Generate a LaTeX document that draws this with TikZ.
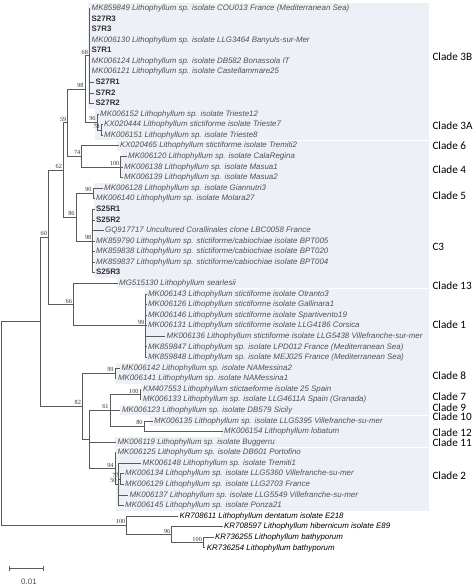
\documentclass[tikz,border=0pt]{standalone}
\usepackage{fontspec}
\setmainfont{Liberation Sans}
\newfontfamily\caliF{Carlito}
\newfontfamily\serifF{Liberation Serif}
\definecolor{leafgray}{HTML}{505050}
\definecolor{boldgray}{HTML}{303030}
\definecolor{linegray}{HTML}{5A5A5A}
\definecolor{boxc}{HTML}{EDF1F7}
\def\R#1{(8.3+10.58*(#1))}
\begin{document}
\begin{tikzpicture}[x=1pt,y=-1pt,
  leaf/.style={anchor=west,inner sep=1.5pt,text height=6pt,text depth=1.7pt,font=\fontsize{7.9}{9}\selectfont\itshape,text=leafgray},
  bleaf/.style={leaf,font=\fontsize{7.9}{9}\selectfont\bfseries,text=boldgray},
  kleaf/.style={leaf,text=black},
  bs/.style={anchor=south east,inner sep=1.2pt,font=\serifF\fontsize{6.3}{7}\selectfont,text=black!80},
  br/.style={draw=linegray,line width=0.8pt},
  clabel/.style={anchor=west,inner sep=0pt,text height=7.6pt,text depth=0pt,font=\caliF\fontsize{11.2}{13}\selectfont,text=black}]
\useasboundingbox (0,0) rectangle (474,585);
% clade boxes
\fill[boxc] (87.5,{\R{0}-5.1}) rectangle (429.3,{\R{9}+5.1});
\fill[boxc] (95,{\R{10}-5.1}) rectangle (429.3,{\R{12}+5.1});
\fill[boxc] (117,{\R{13}-5.1}) rectangle (429.3,{\R{13}+5.1});
\fill[boxc] (121,{\R{14}-5.1}) rectangle (429.3,{\R{16}+5.1});
\fill[boxc] (93.5,{\R{17}-5.1}) rectangle (429.3,{\R{18}+5.1});
\fill[boxc] (93.5,{\R{19}-5.1}) rectangle (429.3,{\R{25}+5.1});
\fill[boxc] (117,{\R{26}-5.1}) rectangle (429.3,{\R{26}+5.1});
\fill[boxc] (145,{\R{27}-5.1}) rectangle (429.3,{\R{33}+5.1});
\fill[boxc] (115.5,{\R{34}-5.1}) rectangle (429.3,{\R{35}+5.1});
\fill[boxc] (140.5,{\R{36}-5.1}) rectangle (429.3,{\R{37}+5.1});
\fill[boxc] (119.5,{\R{38}-5.1}) rectangle (429.3,{\R{38}+5.1});
\fill[boxc] (150,{\R{39}-5.1}) rectangle (429.3,{\R{39}+5.1});
\fill[boxc] (221,{\R{40}-5.1}) rectangle (429.3,{\R{40}+5.1});
\fill[boxc] (114.5,{\R{41}-5.1}) rectangle (429.3,{\R{41}+5.1});
\fill[boxc] (115.5,{\R{42}-5.1}) rectangle (429.3,{\R{47}+5.1});
% clade labels
\node[clabel] (c3B) at (432.3,57) {Clade 3B};
\node[clabel] (c3A) at (432.3,125.3) {Clade 3A};
\node[clabel] (c6) at (432.3,145.7) {Clade 6};
\node[clabel] (c4) at (432.3,169.3) {Clade 4};
\node[clabel] (c5) at (432.3,196) {Clade 5};
\node[clabel] (cC3) at (432.3,246.7) {C3};
\node[clabel] (c13) at (432.3,285.7) {Clade 13};
\node[clabel] (c1) at (432.3,325) {Clade 1};
\node[clabel] (c8) at (432.3,376) {Clade 8};
\node[clabel] (c7) at (432.3,396.5) {Clade 7};
\node[clabel] (c9) at (432.3,407.2) {Clade 9};
\node[clabel] (c10) at (432.3,417) {Clade 10};
\node[clabel] (c12) at (432.3,432.3) {Clade 12};
\node[clabel] (c11) at (432.3,442.7) {Clade 11};
\node[clabel] (c2) at (432.3,476) {Clade 2};
% leaves
\node[leaf] (L0) at (90,{\R{0}}) {MK859849 Lithophyllum sp. isolate COU013 France (Mediterranean Sea)};
\node[bleaf] (L1) at (90,{\R{1}}) {S27R3};
\node[bleaf] (L2) at (90,{\R{2}}) {S7R3};
\node[leaf] (L3) at (90,{\R{3}}) {MK006130 Lithophyllum sp. isolate LLG3464 Banyuls-sur-Mer};
\node[bleaf] (L4) at (90,{\R{4}}) {S7R1};
\node[leaf] (L5) at (90,{\R{5}}) {MK006124 Lithophyllum sp. isolate DB582 Bonassola IT};
\node[leaf] (L6) at (90,{\R{6}}) {MK006121 Lithophyllum sp. isolate Castellammare25};
\node[bleaf] (L7) at (94,{\R{7}}) {S27R1};
\node[bleaf] (L8) at (94,{\R{8}}) {S7R2};
\node[bleaf] (L9) at (94,{\R{9}}) {S27R2};
\node[leaf] (L10) at (98.5,{\R{10}}) {MK006152 Lithophyllum sp. isolate Trieste12};
\node[leaf] (L11) at (102.5,{\R{11}}) {KX020444 Lithophyllum stictiforme isolate Trieste7};
\node[leaf] (L12) at (102.5,{\R{12}}) {MK006151 Lithophyllum sp. isolate Trieste8};
\node[leaf] (L13) at (118.5,{\R{13}}) {KX020465 Lithophyllum stictiforme isolate Tremiti2};
\node[leaf] (L14) at (126.5,{\R{14}}) {MK006120 Lithophyllum sp. isolate CalaRegina};
\node[leaf] (L15) at (122.5,{\R{15}}) {MK006138 Lithophyllum sp. isolate Masua1};
\node[leaf] (L16) at (122.5,{\R{16}}) {MK006139 Lithophyllum sp. isolate Masua2};
\node[leaf] (L17) at (102.5,{\R{17}}) {MK006128 Lithophyllum sp. isolate Giannutri3};
\node[leaf] (L18) at (94.5,{\R{18}}) {MK006140 Lithophyllum sp. isolate Molara27};
\node[bleaf] (L19) at (94.5,{\R{19}}) {S25R1};
\node[bleaf] (L20) at (94.5,{\R{20}}) {S25R2};
\node[leaf] (L21) at (103.5,{\R{21}}) {GQ917717 Uncultured Corallinales clone LBC0058 France};
\node[leaf] (L22) at (94.5,{\R{22}}) {MK859790 Lithophyllum sp. stictiforme/cabiochiae isolate BPT005};
\node[leaf] (L23) at (94.5,{\R{23}}) {MK859838 Lithophyllum sp. stictiforme/cabiochiae isolate BPT020};
\node[leaf] (L24) at (94.5,{\R{24}}) {MK859837 Lithophyllum sp. stictiforme/cabiochiae isolate BPT004};
\node[bleaf] (L25) at (94.5,{\R{25}}) {S25R3};
\node[leaf] (L26) at (117.5,{\R{26}}) {MG515130 Lithophyllum searlesii};
\node[leaf] (L27) at (146.3,{\R{27}}) {MK006143 Lithophyllum stictiforme isolate Otranto3};
\node[leaf] (L28) at (146.3,{\R{28}}) {MK006126 Lithophyllum stictiforme isolate Gallinara1};
\node[leaf] (L29) at (146.3,{\R{29}}) {MK006146 Lithophyllum stictiforme isolate Spartivento19};
\node[leaf] (L30) at (146.3,{\R{30}}) {MK006131 Lithophyllum stictiforme isolate LLG4186 Corsica};
\node[leaf] (L31) at (165,{\R{31}}) {MK006136 Lithophyllum stictiforme isolate LLG5438 Villefranche-sur-mer};
\node[leaf] (L32) at (146.3,{\R{32}}) {MK859847 Lithophyllum sp. isolate LPD012 France (Mediterranean Sea)};
\node[leaf] (L33) at (146.3,{\R{33}}) {MK859848 Lithophyllum sp. isolate MEJ025 France (Mediterranean Sea)};
\node[leaf] (L34) at (120,{\R{34}}) {MK006142 Lithophyllum sp. isolate NAMessina2};
\node[leaf] (L35) at (116.3,{\R{35}}) {MK006141 Lithophyllum sp. isolate NAMessina1};
\node[leaf] (L36) at (141.3,{\R{36}}) {KM407553 Lithophyllum stictaeforme isolate 25 Spain};
\node[leaf] (L37) at (141.3,{\R{37}}) {MK006133 Lithophyllum sp. isolate LLG4611A Spain (Granada)};
\node[leaf] (L38) at (120.3,{\R{38}}) {MK006123 Lithophyllum sp. isolate DB579 Sicily};
\node[leaf] (L39) at (152.5,{\R{39}}) {MK006135 Lithophyllum sp. isolate LLG5395 Villefranche-su-mer};
\node[leaf] (L40) at (222.5,{\R{40}}) {MK006154 Lithophyllum lobatum};
\node[leaf] (L41) at (115.8,{\R{41}}) {MK006119 Lithophyllum sp. isolate Buggerru};
\node[leaf] (L42) at (115.8,{\R{42}}) {MK006125 Lithophyllum sp. isolate DB601 Portofino};
\node[leaf] (L43) at (141,{\R{43}}) {MK006148 Lithophyllum sp. isolate Tremiti1};
\node[leaf] (L44) at (123.5,{\R{44}}) {MK006134 Lithophyllum sp. isolate LLG5360 Villefranche-su-mer};
\node[leaf] (L45) at (123.5,{\R{45}}) {MK006129 Lithophyllum sp. isolate LLG2703 France};
\node[leaf] (L46) at (127.8,{\R{46}}) {MK006137 Lithophyllum sp. isolate LLG5549 Villefranche-su-mer};
\node[leaf] (L47) at (123.5,{\R{47}}) {MK006145 Lithophyllum sp. isolate Ponza21};
\node[kleaf] (L48) at (177.8,{\R{48}}) {KR708611 Lithophyllum dentatum isolate E218};
\node[kleaf] (L49) at (222.5,{\R{49}}) {KR708597 Lithophyllum hibernicum isolate E89};
\node[kleaf] (L50) at (213.5,{\R{50}}) {KR736255 Lithophyllum bathyporum};
\node[kleaf] (L51) at (205.2,{\R{51}}) {KR736254 Lithophyllum bathyporum};
% internal nodes
\coordinate (n68) at (89.3,55.9);
\coordinate (n78) at (101,130);
\coordinate (n96) at (97,122.1);
\coordinate (n98a) at (85,89);
\coordinate (n100a) at (120.7,167);
\coordinate (n74) at (81.7,156.4);
\coordinate (n59) at (67.7,122.7);
\coordinate (n90) at (93,193.4);
\coordinate (n98b) at (92.7,241);
\coordinate (n86) at (76,217.2);
\coordinate (n62) at (63.3,170);
\coordinate (n99a) at (145.7,325.8);
\coordinate (n66) at (73.3,304.6);
\coordinate (n60) at (48.3,237.3);
\coordinate (n99b) at (115,373.3);
\coordinate (n100b) at (140,394.5);
\coordinate (n80) at (144,426.2);
\coordinate (n61) at (110,410.3);
\coordinate (n77) at (120,479.1);
\coordinate (n50) at (118,484.4);
\coordinate (n94) at (115,468.5);
\coordinate (nX) at (89.3,439.4);
\coordinate (n82) at (82.3,406.4);
\coordinate (nL) at (40.7,321.8);
\coordinate (n100d) at (203.3,542.7);
\coordinate (n96b) at (171.7,534.7);
\coordinate (n100c) at (126.7,525.4);
\coordinate (root) at (1.7,423.6);
% branches
\foreach \c in {L0,L1,L2,L3,L4,L5,L6,L7,L8,L9} \draw[br] (n68) |- (\c);
\foreach \c in {L11,L12} \draw[br] (n78) |- (\c);
\foreach \c in {L10,n78} \draw[br] (n96) |- (\c);
\foreach \c in {n68,n96} \draw[br] (n98a) |- (\c);
\foreach \c in {L14,L15,L16} \draw[br] (n100a) |- (\c);
\foreach \c in {L13,n100a} \draw[br] (n74) |- (\c);
\foreach \c in {n98a,n74} \draw[br] (n59) |- (\c);
\foreach \c in {L17,L18} \draw[br] (n90) |- (\c);
\foreach \c in {L19,L20,L21,L22,L23,L24,L25} \draw[br] (n98b) |- (\c);
\foreach \c in {n90,n98b} \draw[br] (n86) |- (\c);
\foreach \c in {n59,n86} \draw[br] (n62) |- (\c);
\foreach \c in {L27,L28,L29,L30,L31,L32,L33} \draw[br] (n99a) |- (\c);
\foreach \c in {L26,n99a} \draw[br] (n66) |- (\c);
\foreach \c in {n62,n66} \draw[br] (n60) |- (\c);
\foreach \c in {L34,L35} \draw[br] (n99b) |- (\c);
\foreach \c in {L36,L37} \draw[br] (n100b) |- (\c);
\foreach \c in {L39,L40} \draw[br] (n80) |- (\c);
\foreach \c in {n100b,L38,n80} \draw[br] (n61) |- (\c);
\foreach \c in {L44,L45} \draw[br] (n77) |- (\c);
\foreach \c in {L43,n77,L46,L47} \draw[br] (n50) |- (\c);
\foreach \c in {L42,n50} \draw[br] (n94) |- (\c);
\foreach \c in {n61,L41,n94} \draw[br] (nX) |- (\c);
\foreach \c in {n99b,nX} \draw[br] (n82) |- (\c);
\foreach \c in {n60,n82} \draw[br] (nL) |- (\c);
\foreach \c in {L50,L51} \draw[br] (n100d) |- (\c);
\foreach \c in {L49,n100d} \draw[br] (n96b) |- (\c);
\foreach \c in {L48,n96b} \draw[br] (n100c) |- (\c);
\foreach \c in {nL,n100c} \draw[br] (root) |- (\c);
% bootstrap values
\node[bs] (b68) at (n68) {68};
\node[bs] (b96) at (n96) {96};
\node[bs] (b78) at (n78) {78};
\node[bs] (b98a) at (n98a) {98};
\node[bs] (b100a) at (n100a) {100};
\node[bs] (b74) at (n74) {74};
\node[bs] (b59) at (n59) {59};
\node[bs] (b90) at (n90) {90};
\node[bs] (b98b) at (n98b) {98};
\node[bs] (b86) at (n86) {86};
\node[bs] (b62) at (n62) {62};
\node[bs] (b99a) at (n99a) {99};
\node[bs] (b66) at (n66) {66};
\node[bs] (b60) at (n60) {60};
\node[bs] (b99b) at (n99b) {99};
\node[bs] (b100b) at (n100b) {100};
\node[bs] (b80) at (n80) {80};
\node[bs] (b61) at (n61) {61};
\node[bs] (b77) at (n77) {77};
\node[bs] (b50) at (n50) {50};
\node[bs] (b94) at (n94) {94};
\node[bs] (b82) at (n82) {82};
\node[bs] (b100c) at (n100c) {100};
\node[bs] (b96b) at (n96b) {96};
\node[bs] (b100d) at (n100d) {100};
% scale bar
\coordinate (s1) at (9,568);
\coordinate (s2) at (43,568);
\draw[br] (s1) -- (s2);
\draw[br] ([yshift=-2.5pt]s1) -- ([yshift=2.5pt]s1);
\draw[br] ([yshift=-2.5pt]s2) -- ([yshift=2.5pt]s2);
\node[font=\fontsize{8}{9}\selectfont,text=leafgray,inner sep=0pt] (sl) at (29,582) {0.01};
\end{tikzpicture}
\end{document}
